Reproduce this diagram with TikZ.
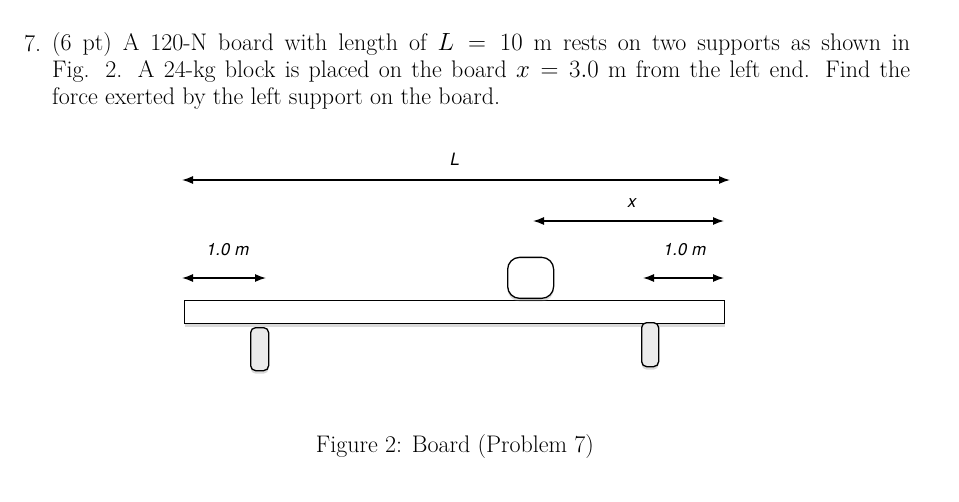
\documentclass[tikz,border=0pt]{standalone}
\usepackage{fontspec}
\newfontfamily\hv{TeX Gyre Heros}
\usetikzlibrary{arrows.meta,shadows}
\begin{document}
\begin{tikzpicture}[x=1pt,y=-1pt,
  dim/.style={{Latex[length=11pt,width=8pt]}-{Latex[length=11pt,width=8pt]}, line width=1.3pt},
  lab/.style={font=\hv\itshape\fontsize{17}{20}\selectfont},
  part/.style={draw, line width=1.3pt, fill=#1, drop shadow={shadow xshift=0pt,shadow yshift=-3pt,opacity=0.3}}]
\useasboundingbox (0,0) rectangle (959,501);
\node[anchor=base west, inner sep=0, font=\fontsize{24}{27}\selectfont] (n7) at (24,51) {7.};
\node[anchor=north west, inner sep=0, text width=858pt, align=justify, font=\fontsize{24}{27}\selectfont] (txt) at (52,32)
 {(6 pt) A 120-N board with length of $L=10$ m rests on two supports as shown in\linebreak Fig. 2. A 24-kg block is placed on the board $x=3.0$ m from the left end. Find the\linebreak force exerted by the left support on the board.};
\node[part=white, minimum width=540pt, minimum height=23pt, inner sep=0, anchor=north west] (board) at (184,300) {};
\node[part=white, rounded corners=12pt, minimum width=46pt, minimum height=41pt, inner sep=0, anchor=south west] (block) at (507,299) {};
\node[part=black!8, rounded corners=5pt, minimum width=18pt, minimum height=43pt, inner sep=0, anchor=north west] (ls) at (250,327) {};
\node[part=black!8, rounded corners=5pt, minimum width=17pt, minimum height=44pt, inner sep=0, anchor=north west] (rs) at (641,322) {};
\coordinate (La) at (182,180); \coordinate (Lb) at (730,180);
\draw[dim] (La) -- (Lb);
\node[lab] (Ll) at (455,159) {L};
\coordinate (xa) at (533,221); \coordinate (xb) at (724,221);
\draw[dim] (xa) -- (xb);
\node[lab] (xl) at (632,203) {x};
\coordinate (a1) at (182,278); \coordinate (a2) at (266,278);
\draw[dim] (a1) -- (a2);
\node[lab] (l1) at (228,250) {1.0 m};
\coordinate (b1) at (643,278); \coordinate (b2) at (724,278);
\draw[dim] (b1) -- (b2);
\node[lab] (l2) at (685,250) {1.0 m};
\node[font=\fontsize{24}{27}\selectfont] (cap) at (455,447) {Figure 2: Board (Problem 7)};
\end{tikzpicture}
\end{document}
